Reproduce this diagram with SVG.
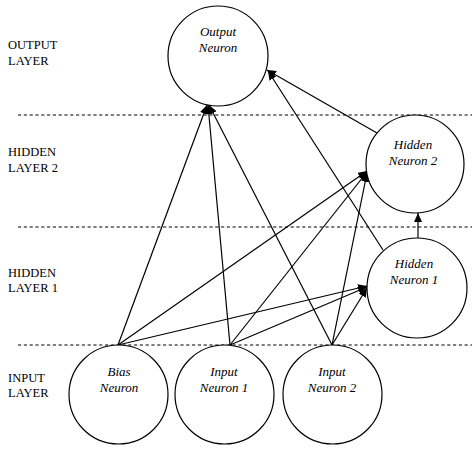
<svg xmlns="http://www.w3.org/2000/svg" width="474" height="449" viewBox="0 0 474 449">
<style>
.n{fill:#fff;stroke:#000;stroke-width:1.2}
.t{font-style:italic;font-size:13px;text-anchor:middle;fill:#000}
.l{font-size:12.5px;fill:#000}
.d{stroke:#000;stroke-width:1;stroke-dasharray:3.2 2.6;fill:none}
.c{stroke:#000;stroke-width:1.2;fill:none;marker-end:url(#a)}
</style>
<defs>
<marker id="a" markerUnits="userSpaceOnUse" markerWidth="10" markerHeight="8" refX="9" refY="4" orient="auto">
<path d="M0,0 L9,4 L0,8 Z" fill="#000"/>
</marker>
</defs>
<rect width="474" height="449" fill="#fff"/>
<g id="layers" font-family="Liberation Serif, serif">
<line class="d" x1="18" y1="115" x2="472" y2="115"/>
<line class="d" x1="18" y1="227" x2="472" y2="227"/>
<line class="d" x1="18" y1="345" x2="472" y2="345"/>
<text class="l" x="8" y="49">OUTPUT</text>
<text class="l" x="8" y="65">LAYER</text>
<text class="l" x="8" y="156">HIDDEN</text>
<text class="l" x="8" y="172">LAYER 2</text>
<text class="l" x="8" y="277">HIDDEN</text>
<text class="l" x="8" y="292">LAYER 1</text>
<text class="l" x="8" y="382">INPUT</text>
<text class="l" x="8" y="397">LAYER</text>
</g>
<g id="connectors">
<line class="c" x1="118" y1="345" x2="207" y2="105"/>
<line class="c" x1="230" y1="345" x2="208" y2="105"/>
<line class="c" x1="332" y1="345" x2="209" y2="105"/>
<line class="c" x1="118" y1="345" x2="367" y2="171"/>
<line class="c" x1="230" y1="345" x2="367" y2="172"/>
<line class="c" x1="332" y1="345" x2="367" y2="173"/>
<line class="c" x1="118" y1="345" x2="367" y2="286"/>
<line class="c" x1="230" y1="345" x2="367" y2="287"/>
<line class="c" x1="332" y1="345" x2="367" y2="288"/>
<line class="c" x1="418" y1="238" x2="418" y2="213"/>
<line class="c" x1="377" y1="133" x2="267" y2="70"/>
<line class="c" x1="383" y1="250" x2="268" y2="71"/>
</g>
<g font-family="Liberation Serif, serif">
<g id="output-neuron">
<circle class="n" cx="218" cy="56" r="50" style="fill:none"/>
<text class="t" x="218" y="36">Output</text>
<text class="t" x="218" y="52">Neuron</text>
</g>
<g id="hidden-neuron-2">
<circle class="n" cx="415" cy="164" r="49"/>
<text class="t" x="413" y="149">Hidden</text>
<text class="t" x="413" y="165">Neuron 2</text>
</g>
<g id="hidden-neuron-1">
<circle class="n" cx="417" cy="288" r="50"/>
<text class="t" x="414" y="268">Hidden</text>
<text class="t" x="414" y="284">Neuron 1</text>
</g>
<g id="bias-neuron">
<circle class="n" cx="118.5" cy="394.5" r="49.5"/>
<text class="t" x="119" y="376">Bias</text>
<text class="t" x="119" y="392">Neuron</text>
</g>
<g id="input-neuron-1">
<circle class="n" cx="224.5" cy="394.5" r="49.5"/>
<text class="t" x="224" y="376">Input</text>
<text class="t" x="224" y="392">Neuron 1</text>
</g>
<g id="input-neuron-2">
<circle class="n" cx="332.5" cy="394.5" r="49.5"/>
<text class="t" x="332" y="376">Input</text>
<text class="t" x="332" y="392">Neuron 2</text>
</g>
</g>
</svg>
